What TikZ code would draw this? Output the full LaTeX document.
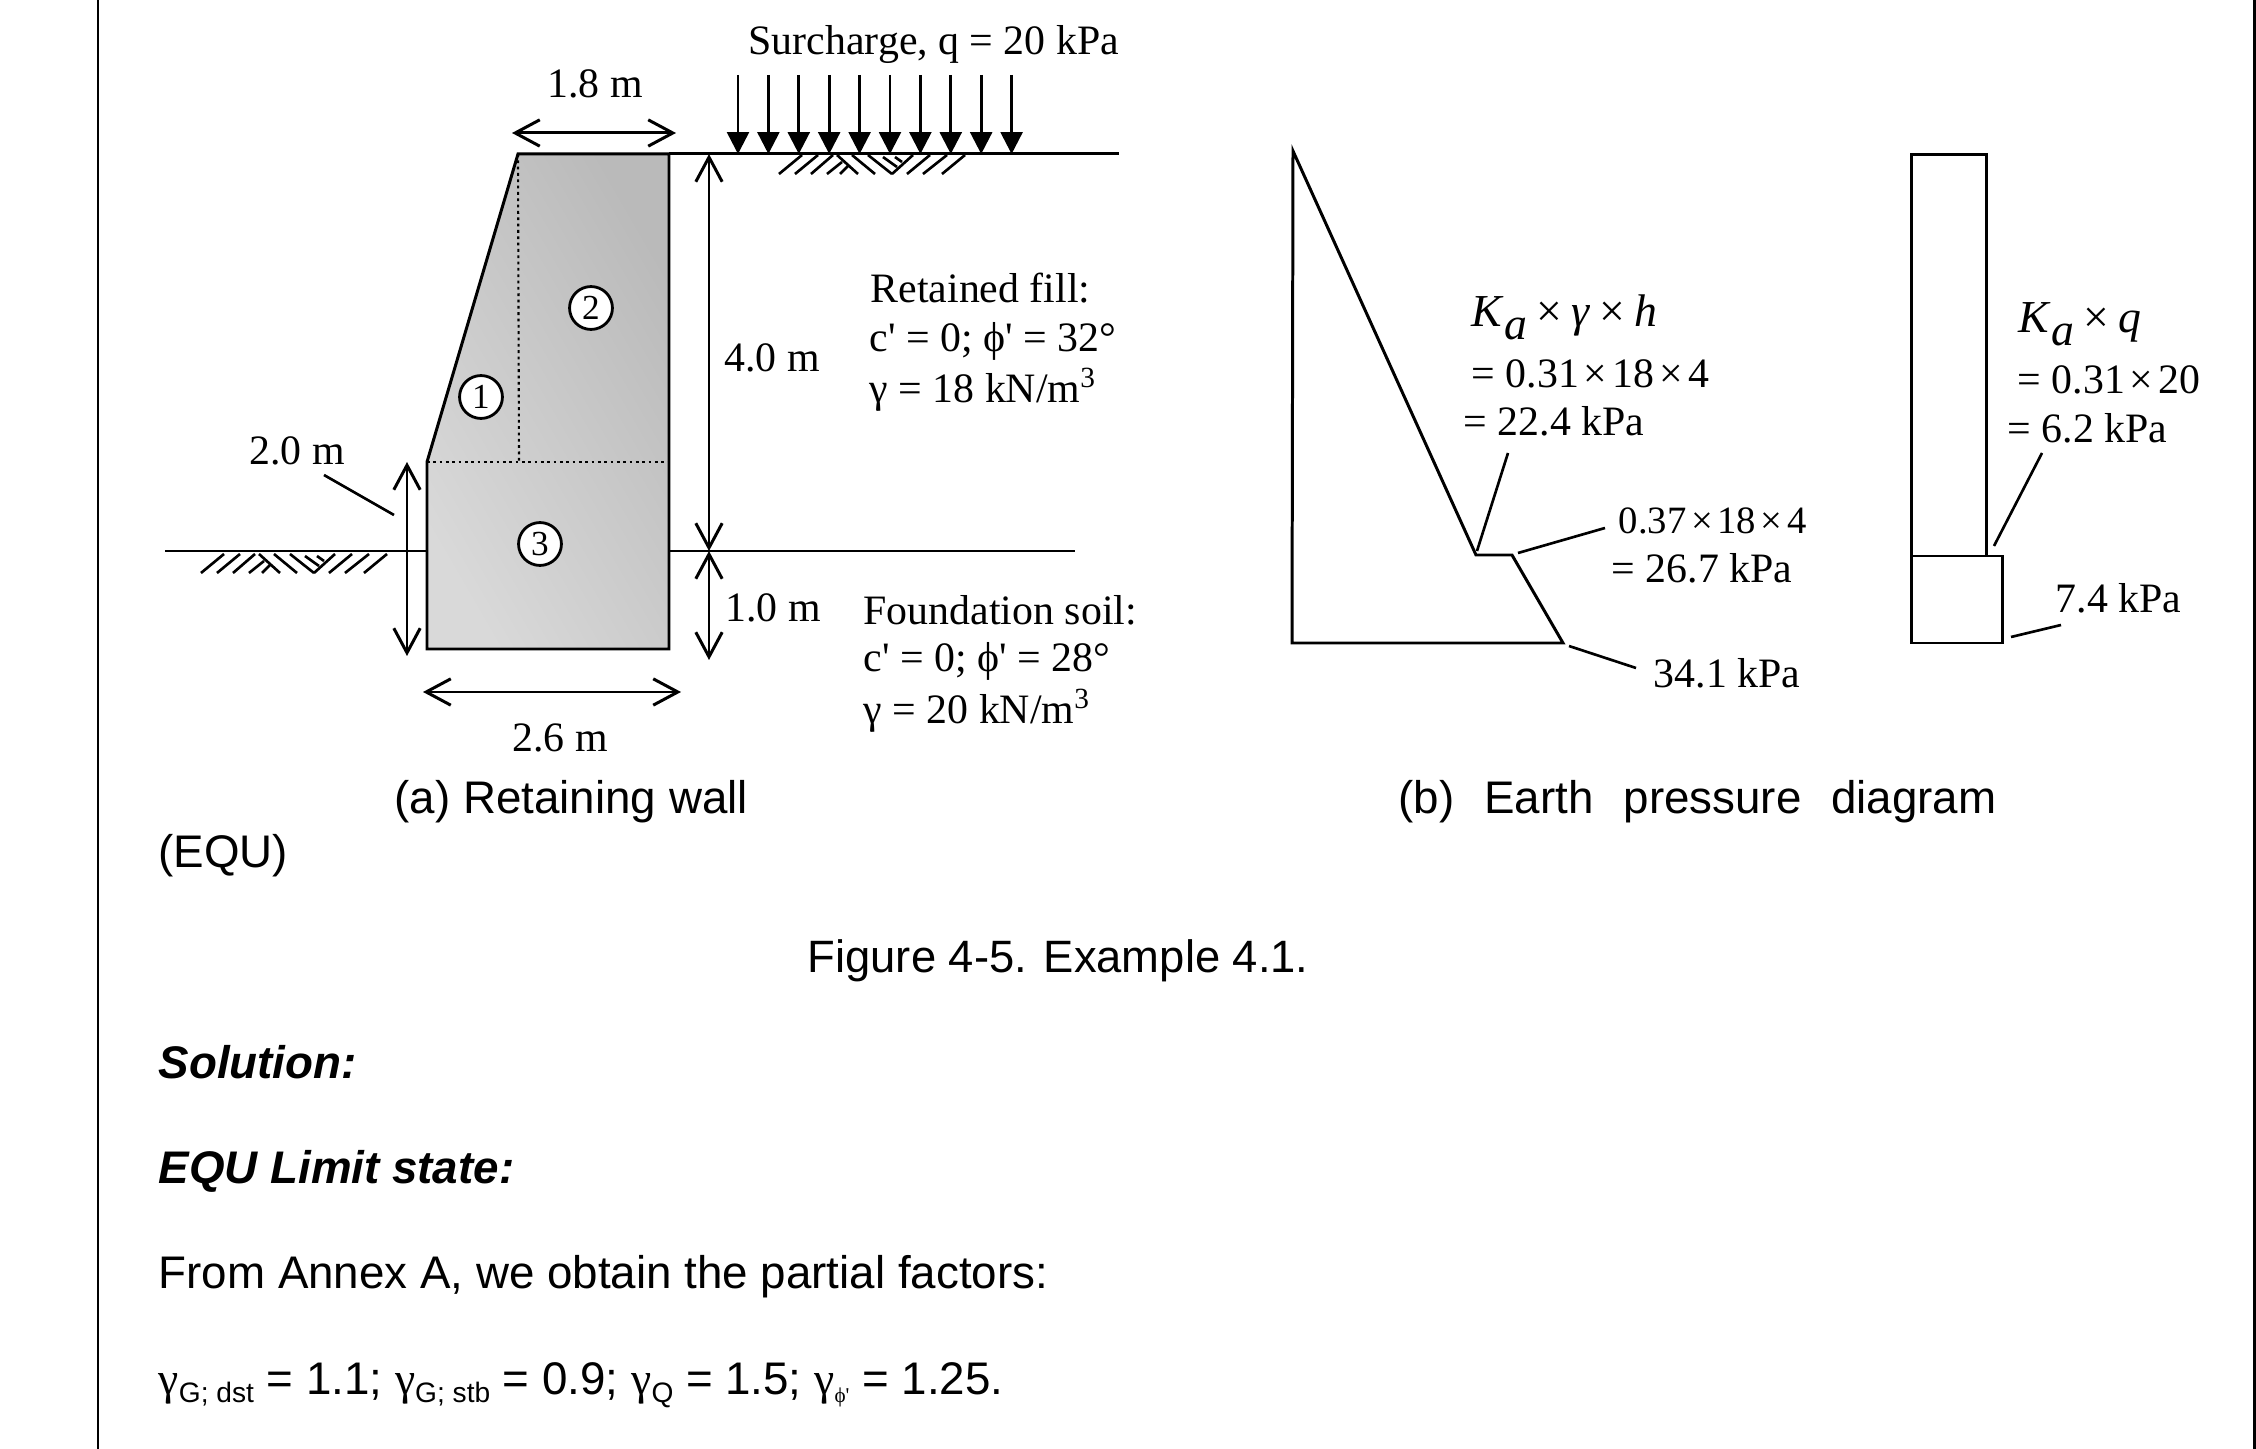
\documentclass[tikz,border=0pt]{standalone}
\usepackage{fontspec}
\setmainfont{Liberation Serif}
\setsansfont{Liberation Sans}
\usetikzlibrary{arrows.meta, positioning, calc}

\newcommand{\Kasub}{\textit{K}\raisebox{-0.6ex}{\textit{a}}}
\newcommand{\gammasub}[1]{{\rmfamily\fontsize{13}{15}\selectfont γ}\raisebox{-0.35ex}{\fontsize{8}{10}\selectfont #1}}
\newcommand{\tm}{\kern0.12em×\kern0.12em}

\tikzset{
  wallline/.style={line width=0.85pt},
  thinline/.style={line width=0.75pt},
  splitline/.style={line width=0.6pt, dash pattern=on 0.8pt off 1.0pt},
  dimline/.style={line width=0.85pt, {Straight Barb[length=7pt,width=7.5pt]}-{Straight Barb[length=7pt,width=7.5pt]}},
  loadarrow/.style={line width=0.75pt, -{Triangle[length=6.2pt,width=6.2pt]}},
  label/.style={inner sep=0pt, anchor=base west, font=\fontsize{11.9}{14}\selectfont},
  dimlabel/.style={inner sep=0pt, anchor=base, font=\fontsize{11.9}{14}\selectfont},
  caption/.style={inner sep=0pt, anchor=base west, font=\sffamily\fontsize{13}{15}\selectfont},
  blockno/.style={circle, draw, line width=0.8pt, fill=white, minimum size=12.2pt, inner sep=0pt, font=\fontsize{10}{12}\selectfont},
  soilhatch/.pic={
    \foreach \xa/\ya/\xb/\yb in {0/0/23/-19, 16/0/39/-19, 32/0/54/-19, 48/0/63/-12, 61/0/69/-8, 58/-19/79/0, 73/-19/96/0,
        89/-19/113/0, 104/-17/118/-7, 116/-17/123/-12, 113/0/134/-19, 128/0/151/-19, 144/0/168/-19, 163/0/186/-19}
      \draw[thinline] (\xa,\ya) -- (\xb,\yb);
  }
}

\begin{document}
\begin{tikzpicture}[x=0.01cm,y=-0.01cm]
  \useasboundingbox (0,0) rectangle (2256,1449);

  % Page rules
  \draw[wallline] (98,0) -- (98,1449);
  \draw[wallline] (2254,0) -- (2254,1449);

  % Corners of the wall
  \coordinate (walltl) at (518,154);
  \coordinate (walltr) at (669,154);
  \coordinate (wallbr) at (669,649);
  \coordinate (wallbl) at (427,649);
  \coordinate (wallsh) at (427,462);
  \coordinate (wallmid) at (519,462);
  \coordinate (wallin) at (669,462);

  % Wall
  \shade[top color=black!27, bottom color=black!15, shading angle=-60] (walltl) -- (walltr) -- (wallbr) -- (wallbl) -- (wallsh) -- cycle;
  \draw[wallline] (walltl) -- (walltr) -- (wallbr) -- (wallbl) -- (wallsh) -- cycle;
  \draw[splitline] (walltl) -- (wallmid);
  \draw[splitline] (wallsh) -- (wallin);

  \node[blockno] (block1) at (481,397) {1};
  \node[blockno] (block2) at (591,308) {2};
  \node[blockno] (block3) at (540,544) {3};

  % Ground lines
  \coordinate (grndtop) at (1119,154);
  \coordinate (grndleft) at (165,551);
  \coordinate (grndwalll) at (427,551);
  \coordinate (grndwallr) at (669,551);
  \coordinate (grndright) at (1075,551);
  \draw[wallline] (walltr) -- (grndtop);
  \draw[wallline] (grndleft) -- (grndwalll);
  \draw[wallline] (grndwallr) -- (grndright);
  \pic at (779,174) {soilhatch};
  \pic at (201,573) {soilhatch};

  % Surcharge
  \node[label] (surcharge) at (748,55) {Surcharge, q = 20 kPa};
  \foreach \i in {0,...,9} {
    \coordinate (loadtop\i) at ({738+30.4*\i},75);
    \coordinate (loadend\i) at ({738+30.4*\i},154);
    \draw[loadarrow] (loadtop\i) -- (loadend\i);
  }

  % Dimensions
  \coordinate (dimtopl) at (512,133);
  \coordinate (dimtopr) at (676,133);
  \coordinate (dimhl) at (709,154);
  \coordinate (dimhm) at (709,551);
  \coordinate (dimhb) at (709,660);
  \coordinate (dimlt) at (407,462);
  \coordinate (dimlb) at (407,656);
  \coordinate (dimbl) at (423,692);
  \coordinate (dimbr) at (681,692);
  \draw[dimline] (dimtopl) -- (dimtopr);
  \draw[dimline] (dimhl) -- (dimhm);
  \draw[dimline] (dimhm) -- (dimhb);
  \draw[dimline] (dimlt) -- (dimlb);
  \draw[dimline] (dimbl) -- (dimbr);
  \node[dimlabel] (len18) at (595,98) {1.8 m};
  \node[dimlabel] (len40) at (772,372) {4.0 m};
  \node[dimlabel] (len10) at (773,622) {1.0 m};
  \node[dimlabel] (len20) at (297,465) {2.0 m};
  \node[dimlabel] (len26) at (560,752) {2.6 m};
  \coordinate (leadera) at (324,475);
  \coordinate (leaderb) at (394,515);
  \draw[thinline] (leadera) -- (leaderb);

  % Soil data
  \node[label] (fill1) at (870,303) {Retained fill:};
  \node[label] (fill2) at (869,352) {c\textquotesingle{} = 0; ϕ\textquotesingle{} = 32°};
  \node[label] (fill3) at (869,403) {γ = 18 kN/m\textsuperscript{3}};
  \node[label] (found1) at (863,625) {Foundation soil:};
  \node[label] (found2) at (863,672) {c\textquotesingle{} = 0; ϕ\textquotesingle{} = 28°};
  \node[label] (found3) at (863,724) {γ = 20 kN/m\textsuperscript{3}};

  % Pressure from the fill
  \coordinate (fillt) at (1293,151);
  \coordinate (fillb) at (1292,643);
  \coordinate (fillc) at (1563,643);
  \coordinate (filld) at (1512,555);
  \coordinate (fille) at (1476,555);
  \draw[wallline] (fillt) -- (fillb) -- (fillc) -- (filld) -- (fille) -- cycle;

  \node[label, font=\fontsize{13}{15}\selectfont] (ka1) at (1471,327) {\Kasub{}\kern0.2em×\kern0.2em\textit{γ}\kern0.2em×\kern0.2em\textit{h}};
  \node[label] (ka2) at (1471,388) {= 0.31\tm 18\tm 4};
  \node[label] (ka3) at (1463,436) {= 22.4 kPa};
  \node[label, font=\fontsize{11}{13}\selectfont] (kb1) at (1618,534) {0.37\tm 18\tm 4};
  \node[label] (kb2) at (1611,583) {= 26.7 kPa};
  \node[label] (kc1) at (1653,688) {34.1 kPa};
  \coordinate (leadc) at (1508,453);
  \coordinate (leadd) at (1477,551);
  \coordinate (leade) at (1605,528);
  \coordinate (leadf) at (1518,553);
  \coordinate (leadg) at (1569,646);
  \coordinate (leadh) at (1636,668);
  \draw[thinline] (leadc) -- (leadd);
  \draw[thinline] (leade) -- (leadf);
  \draw[thinline] (leadg) -- (leadh);

  % Pressure from the surcharge
  \coordinate (surtl) at (1911,155);
  \coordinate (surtr) at (1986,155);
  \coordinate (surml) at (1911,556);
  \coordinate (surmr) at (1986,556);
  \coordinate (surmo) at (2002,556);
  \coordinate (surbo) at (2002,643);
  \coordinate (surbl) at (1911,643);
  \draw[wallline] (surbl) -- (surtl) -- (surtr) -- (surmr);
  \draw[wallline] (surml) -- (surmo) -- (surbo) -- (surbl) -- cycle;

  \node[label, font=\fontsize{13}{15}\selectfont] (kq1) at (2018,333) {\Kasub{}\kern0.2em×\kern0.2em\textit{q}};
  \node[label] (kq2) at (2017,394) {= 0.31\tm 20};
  \node[label] (kq3) at (2007,443) {= 6.2 kPa};
  \node[label] (kq4) at (2055,613) {7.4 kPa};
  \coordinate (leadi) at (2042,453);
  \coordinate (leadj) at (1994,546);
  \coordinate (leadk) at (2011,637);
  \coordinate (leadl) at (2061,625);
  \draw[thinline] (leadi) -- (leadj);
  \draw[thinline] (leadk) -- (leadl);

  % Captions and text below
  \node[caption] (capa) at (394,814) {(a) Retaining wall};
  \node[caption] (capb) at (1398,814) {\makebox[170pt][s]{(b) Earth pressure diagram}};
  \node[caption] (equ) at (158,868) {(EQU)};
  \node[caption, font=\sffamily\fontsize{12.9}{15}\selectfont] (figcap) at (807,973) {Figure 4-5. Example 4.1.};
  \node[caption, font=\sffamily\bfseries\itshape\fontsize{13}{15}\selectfont] (solution) at (158,1078) {Solution:};
  \node[caption, font=\sffamily\bfseries\itshape\fontsize{13}{15}\selectfont] (limit) at (158,1183) {EQU Limit state:};
  \node[caption] (annex) at (158,1288) {From Annex A, we obtain the partial factors:};
  \node[caption] (factors) at (158,1394) {\gammasub{G; dst} = 1.1; \gammasub{G; stb} = 0.9; \gammasub{Q} = 1.5; \gammasub{\rmfamily\fontsize{6}{7}\selectfont ϕ\textquotesingle} = 1.25.};
\end{tikzpicture}
\end{document}
